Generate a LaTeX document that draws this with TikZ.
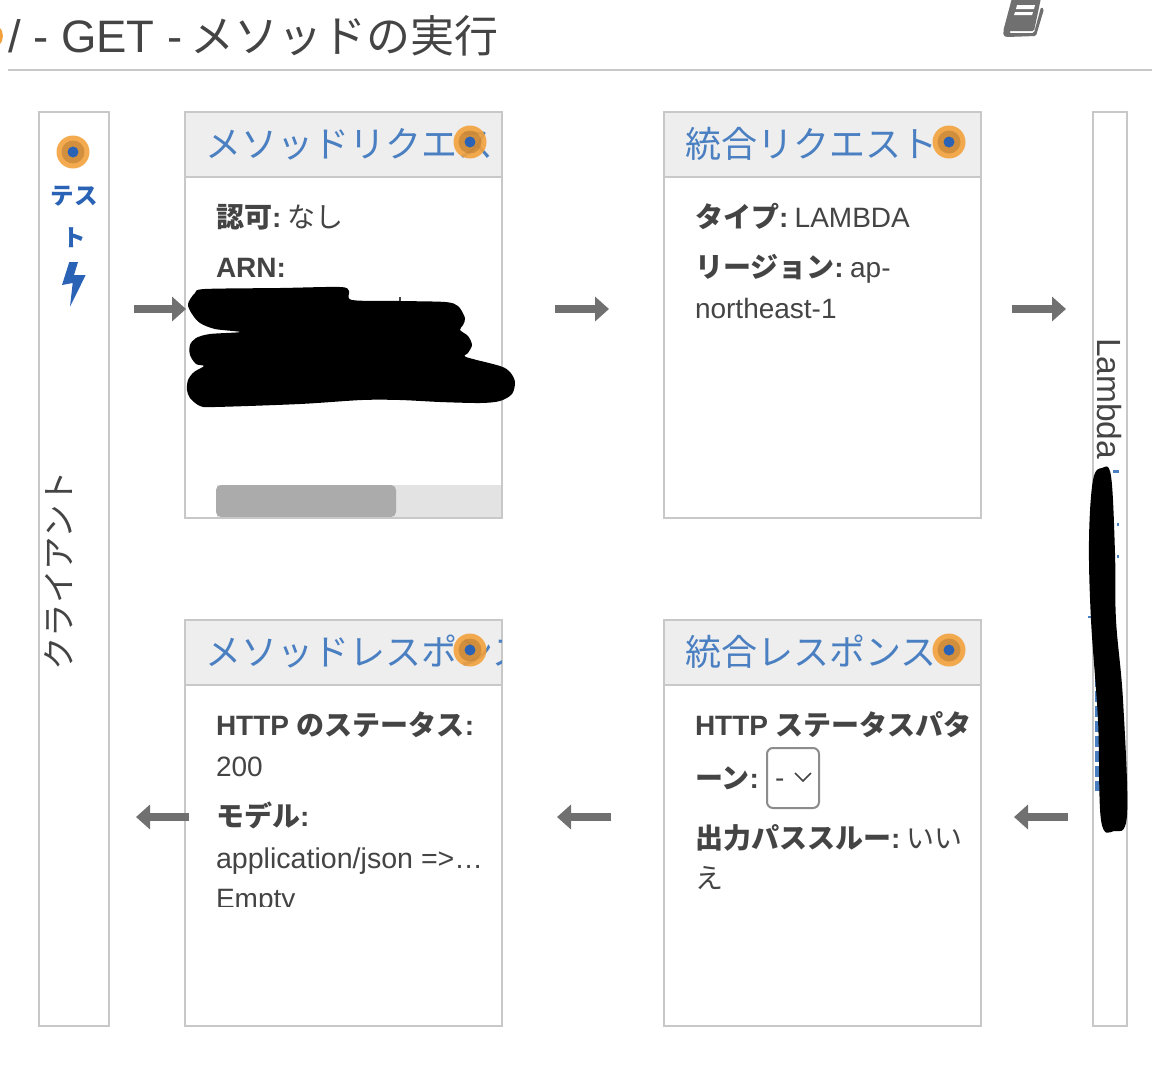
\documentclass[tikz,border=0pt]{standalone}
\usepackage{fontspec}
\setmainfont{Liberation Sans}
\newfontfamily\jp{Noto Sans CJK JP}
\usetikzlibrary{arrows.meta}
\definecolor{edge}{HTML}{C8C8C8}
\definecolor{ink}{HTML}{444444}
\definecolor{headblue}{HTML}{4A7FC1}
\definecolor{linkblue}{HTML}{2A63B5}
\definecolor{headfill}{HTML}{EEEEEE}
\definecolor{flowgray}{HTML}{707070}
\definecolor{orb}{HTML}{F3A13C}
\newcommand{\bodyfont}{\fontsize{28}{28}\selectfont}
\newcommand{\headfont}{\fontsize{36}{36}\selectfont\jp}
\newcommand{\jb}[1]{{\jp\bfseries #1}\textbf{:}\hspace{-4pt}}
\tikzset{
  box/.style={draw=edge,line width=2pt,fill=white,rectangle,inner sep=0pt,outer sep=0pt,anchor=north west},
  headbox/.style={box,fill=headfill,minimum width=317pt,minimum height=65pt},
  panel/.style={box,minimum width=317pt,minimum height=406pt},
  strip/.style={box,minimum height=914pt},
  label/.style={anchor=base west,inner sep=0pt,outer sep=0pt,text=ink,font=\bodyfont},
  headlabel/.style={anchor=base west,inner sep=0pt,outer sep=0pt,text=headblue,font=\headfont},
  flow/.style={draw=flowgray,line width=8pt,-{Triangle[width=24pt,length=14pt]}},
  scribble/.style={fill=black,draw=none},
  frag/.style={fill=headblue,draw=none}
}
\newcommand{\orbat}[2]{%
  \fill[orb,opacity=.9] (#1,#2) circle (16.5pt);
  \fill[black!30!orb,opacity=.45] (#1,#2) circle (11.5pt);
  \fill[linkblue] (#1,#2) circle (5.5pt);
}
\begin{document}
\begin{tikzpicture}[x=1pt,y=-1pt]
\useasboundingbox (0,0) rectangle (1152,1072);
\fill[white] (0,0) rectangle (1152,1072);

% title
\fill[orb] (-10,36) circle (13pt);
\node[anchor=base west,inner sep=0pt,text=ink,font=\fontsize{45.5}{45.5}\selectfont] (title) at (8,52) {/ - GET - \hspace{-5pt}{\fontsize{44}{44}\selectfont\jp メソッドの実行}};
\draw[edge,line width=2pt] (8,70) -- (1152,70);

% book icon
\fill[flowgray,rounded corners=1.5pt] (1012,-2) -- (1041,-2) -- (1034,31) -- (1009,31) -- (1009,33) -- (1034,33) -- (1041,7) -- (1044,9) -- (1036,36) -- (1007,37) .. controls (1003,36) and (1003,32) .. (1004,28) -- cycle;
\fill[white] (1017,5) -- (1035,5) -- (1034,9) -- (1016,9) -- cycle;
\fill[white] (1015,12) -- (1033,12) -- (1032,15) -- (1014,15) -- cycle;

% strips
\node[strip,minimum width=70pt] (client) at (39,112) {};
\node[strip,minimum width=34pt] (lambda) at (1093,112) {};

% panels
\node[panel] (mreq) at (185,112) {};
\node[panel] (ireq) at (664,112) {};
\node[panel] (mres) at (185,620) {};
\node[panel] (ires) at (664,620) {};
\node[headbox] (mreqh) at (185,112) {};
\node[headbox] (ireqh) at (664,112) {};
\node[headbox] (mresh) at (185,620) {};
\node[headbox] (iresh) at (664,620) {};

% scrollbar
\fill[black!11] (217,485) rectangle (501,517);
\fill[black!33,rounded corners=5pt] (216,485) rectangle (396,517);
\draw[edge,line width=2pt] (185,518) -- (502,518) -- (502,485);

% headings
\begin{scope}
  \clip (186,113) rectangle (490,176);
  \node[headlabel] (mreqt) at (205,157) {メソッドリクエスト};
\end{scope}
\node[headlabel] (ireqt) at (685,157) {統合リクエスト};
\begin{scope}
  \clip (186,621) rectangle (501,684);
  \node[headlabel] (mrest) at (205,665) {メソッドレスポンス};
\end{scope}
\node[headlabel] (irest) at (685,665) {統合レスポンス};

% orbs
\orbat{73}{152}
\orbat{470}{142}
\orbat{949}{142}
\orbat{470}{650}
\orbat{949}{650}

% client strip
\node[anchor=center,inner sep=0pt,text=linkblue,font=\fontsize{23.5}{23.5}\selectfont\jp\bfseries] (test1) at (74,196) {テス};
\node[anchor=center,inner sep=0pt,text=linkblue,font=\fontsize{23.5}{23.5}\selectfont\jp\bfseries] (test2) at (74,238) {ト};
\fill[linkblue] (69.3,262) -- (78,262) -- (74,275) -- (85.7,275) -- (70,306.7) -- (72.7,283) -- (62,285) -- cycle;
\node[rotate=90,anchor=center,inner sep=0pt,text=ink,font=\fontsize{33.5}{33.5}\selectfont\jp] (clientt) at (59,571) {クライアント};

% lambda strip
\node[rotate=-90,anchor=north west,inner sep=0pt,text=ink,font=\fontsize{33.5}{33.5}\selectfont] (lambdat) at (1122,338) {Lambda};
\fill[frag] (1113,470) rectangle (1119,473);
\fill[frag] (1117,523) rectangle (1119,526);
\fill[frag] (1117,555) rectangle (1119,558);
\fill[frag] (1088,616) rectangle (1091,618);
\draw[headblue,line width=7pt,dash pattern=on 11pt off 4pt] (1098,676) -- (1098,791);

% body: method request
\node[label] (n1) at (216,227) {\jb{認可} {\jp なし}};
\node[label] (n2) at (216,277) {\textbf{ARN:}};
\fill[ink] (399,297) rectangle (401,305);
\fill[scribble] plot[smooth cycle,tension=.5] coordinates {(188,304) (195,293) (205,289) (280,288) (340,287) (349,291) (352,300) (400,301) (445,302) (458,306) (465,318) (463,325) (460,330) (468,336) (472,345) (468,353) (466,357) (500,366) (510,372) (515,382) (512,394) (500,401) (480,403) (440,402) (400,400) (362,400) (300,404) (215,407) (200,406) (190,398) (187,390) (188,380) (194,372) (204,366) (196,364) (190,355) (190,345) (196,338) (210,334) (240,332) (215,329) (200,323) (192,314)};

% body: integration request
\node[label] (n3) at (695,227) {\jb{タイプ} LAMBDA};
\node[label] (n4) at (695,277) {\jb{リージョン} ap-};
\node[label] (n5) at (695,318) {northeast-1};

% body: method response
\node[label] (n6) at (216,735) {\textbf{HTTP} \jb{のステータス}};
\node[label] (n7) at (216,776) {200};
\node[label] (n8) at (216,826) {\jb{モデル}};
\node[label,font=\fontsize{28.6}{28.6}\selectfont] (n9) at (216,868) {application/json =>…};
\begin{scope}
  \clip (186,880) rectangle (501,906);
  \node[label] (n10) at (216,908) {Empty};
\end{scope}

% body: integration response
\node[label] (n11) at (695,735) {\textbf{HTTP} {\jp\bfseries ステータスパタ}};
\node[label] (n12) at (695,788) {\jb{ーン}};
\node[draw=black!45,line width=2pt,rounded corners=6pt,fill=white,minimum width=52pt,minimum height=60pt,inner sep=0pt,anchor=north west] (sel) at (766,747) {};
\node[label] (seltext) at (775,787) {-};
\draw[ink,line width=1.5pt] (795,773) -- (803,781) -- (811,773);
\node[label] (n13) at (695,848) {\jb{出力パススルー} {\jp いい}};
\node[label] (n14) at (695,888) {{\jp え}};

% right scribble
\fill[scribble] plot[smooth cycle,tension=.6] coordinates {(1102,468) (1111,476) (1115,553) (1116,620) (1123,700) (1127,815) (1114,831) (1101,820) (1098,720) (1091,620) (1089,540) (1093,480)};

% connectors
\coordinate (upper) at (0,309);
\coordinate (lower) at (0,817);
\draw[flow,shorten <=25pt,shorten >=-1pt] (client.east |- upper) -- (mreq.west |- upper);
\draw[flow,shorten <=53pt,shorten >=55pt] (mreq.east |- upper) -- (ireq.west |- upper);
\draw[flow,shorten <=31pt,shorten >=27pt] (ireq.east |- upper) -- (lambda.west |- upper);
\draw[flow,shorten <=25pt,shorten >=33pt] (lambda.west |- lower) -- (ires.east |- lower);
\draw[flow,shorten <=53pt,shorten >=55pt] (ires.west |- lower) -- (mres.east |- lower);
\draw[flow,shorten <=-4pt,shorten >=27pt] (mres.west |- lower) -- (client.east |- lower);
\end{tikzpicture}
\end{document}
